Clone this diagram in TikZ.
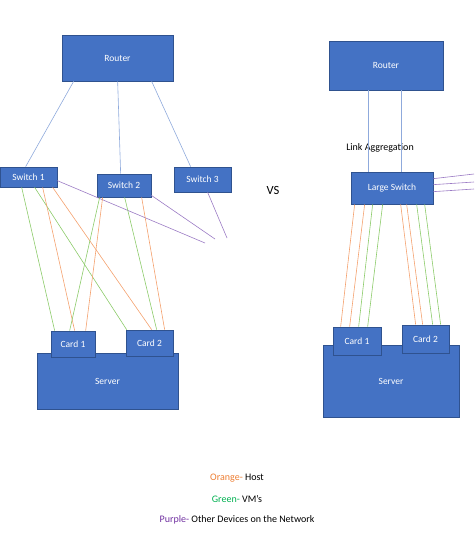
\documentclass[tikz,border=0pt]{standalone}
\usepackage{fontspec}
\setmainfont{Carlito}
\definecolor{boxfill}{HTML}{4472C4}
\definecolor{boxline}{HTML}{2F528F}
\definecolor{linkblue}{HTML}{8FAADC}
\definecolor{lorange}{HTML}{F4A16E}
\definecolor{lgreen}{HTML}{8CCB6A}
\definecolor{lpurple}{HTML}{9B7BC4}
\definecolor{torange}{HTML}{ED7D31}
\definecolor{tgreen}{HTML}{00B050}
\definecolor{tpurple}{HTML}{7030A0}
\begin{document}
\begin{tikzpicture}[x=1pt,y=-1pt,
  box/.style={draw=boxline, line width=0.7pt, fill=boxfill, text=white,
    font=\fontsize{9.5}{11}\selectfont, inner sep=0pt},
  uplink/.style={draw=linkblue, line width=0.6pt},
  hostl/.style={draw=lorange, line width=0.6pt},
  vml/.style={draw=lgreen, line width=0.6pt},
  otherl/.style={draw=lpurple, line width=0.6pt},
  plain/.style={text=black, inner sep=0pt},
]
\useasboundingbox (0,0) rectangle (474,535);

% ---------- left side ----------
\node[box, minimum width=111pt, minimum height=46pt] (rl) at (117.5,58) {Router};
\node[box, minimum width=57pt, minimum height=20pt] (s1) at (28.5,177) {Switch 1};
\node[box, minimum width=54pt, minimum height=23pt] (s2) at (124,185.5) {Switch 2};
\node[box, minimum width=57pt, minimum height=25pt] (s3) at (202.5,179.5) {Switch 3};
\node[box, minimum width=141pt, minimum height=56pt] (svl) at (107.5,381) {Server};
\node[box, minimum width=44pt, minimum height=26pt] (c1l) at (73,344) {Card 1};
\node[box, minimum width=47pt, minimum height=26pt] (c2l) at (149.5,343) {Card 2};

\coordinate (p1) at (205,243);
\coordinate (p2) at (215,239);
\coordinate (p3) at (227,238);

\draw[uplink] ([xshift=12pt]rl.south west) -- ([xshift=26pt]s1.north west);
\draw[uplink] ([xshift=56pt]rl.south west) -- ([xshift=24pt]s2.north west);
\draw[uplink] ([xshift=90pt]rl.south west) -- ([xshift=17pt]s3.north west);

\draw[vml]   ([xshift=22pt]s1.south west) -- ([xshift=4pt]c1l.north west);
\draw[vml]   ([xshift=35pt]s1.south west) -- ([xshift=1pt]c2l.north west);
\draw[hostl] ([xshift=43pt]s1.south west) -- ([xshift=24pt]c1l.north west);
\draw[hostl] ([xshift=53pt]s1.south west) -- ([xshift=26pt]c2l.north west);
\draw[otherl] ([yshift=-14pt]s1.north east) -- (p1);

\draw[vml]   ([xshift=3pt]s2.south west) -- ([xshift=19pt]c1l.north west);
\draw[hostl] ([xshift=6pt]s2.south west) -- ([xshift=35pt]c1l.north west);
\draw[vml]   ([xshift=28pt]s2.south west) -- ([xshift=31pt]c2l.north west);
\draw[hostl] ([xshift=45pt]s2.south west) -- ([xshift=39pt]c2l.north west);
\draw[otherl] ([yshift=2pt]s2.south east) -- (p2);

\draw[otherl] ([xshift=34pt]s3.south west) -- (p3);

% ---------- middle ----------
\node[plain, font=\fontsize{12.5}{14}\selectfont] (vs) at (273,190) {VS};

% ---------- right side ----------
\node[box, minimum width=114pt, minimum height=49pt] (rr) at (386,65.5) {Router};
\node[box, minimum width=82pt, minimum height=32pt] (ls) at (392,188) {Large Switch};
\node[box, minimum width=136pt, minimum height=72pt] (svr) at (391,381) {Server};
\node[box, minimum width=48pt, minimum height=28pt] (c1r) at (357,341) {Card 1};
\node[box, minimum width=47pt, minimum height=28pt] (c2r) at (425.5,339) {Card 2};
\node[plain, font=\fontsize{10}{12}\selectfont] (la) at (380,148) {Link Aggregation};

\draw[uplink] ([xshift=40pt]rr.south west) -- ([xshift=18pt]ls.north west);
\draw[uplink] ([xshift=73pt]rr.south west) -- ([xshift=51pt]ls.north west);

\draw[hostl] ([xshift=4pt]ls.south west)  -- ([xshift=8pt]c1r.north west);
\draw[hostl] ([xshift=14pt]ls.south west) -- ([xshift=17pt]c1r.north west);
\draw[vml]   ([xshift=22pt]ls.south west) -- ([xshift=26pt]c1r.north west);
\draw[vml]   ([xshift=32pt]ls.south west) -- ([xshift=35pt]c1r.north west);
\draw[hostl] ([xshift=50pt]ls.south west) -- ([xshift=14pt]c2r.north west);
\draw[hostl] ([xshift=56pt]ls.south west) -- ([xshift=21pt]c2r.north west);
\draw[vml]   ([xshift=66pt]ls.south west) -- ([xshift=31pt]c2r.north west);
\draw[vml]   ([xshift=74pt]ls.south west) -- ([xshift=39pt]c2r.north west);

\coordinate (q1) at (474,174);
\coordinate (q2) at (474,182);
\coordinate (q3) at (474,189);
\draw[otherl] ([yshift=-7pt]ls.north east)  -- (q1);
\draw[otherl] ([yshift=-13pt]ls.north east) -- (q2);
\draw[otherl] ([yshift=-20pt]ls.north east) -- (q3);

% ---------- legend ----------
\node[plain, font=\fontsize{10}{12}\selectfont] (leg1) at (237,478) {\textcolor{torange}{Orange-} Host};
\node[plain, font=\fontsize{10}{12}\selectfont] (leg2) at (237,499) {\textcolor{tgreen}{Green-} VM’s};
\node[plain, font=\fontsize{10}{12}\selectfont] (leg3) at (237,520) {\textcolor{tpurple}{Purple-} Other Devices on the Network};
\end{tikzpicture}
\end{document}
